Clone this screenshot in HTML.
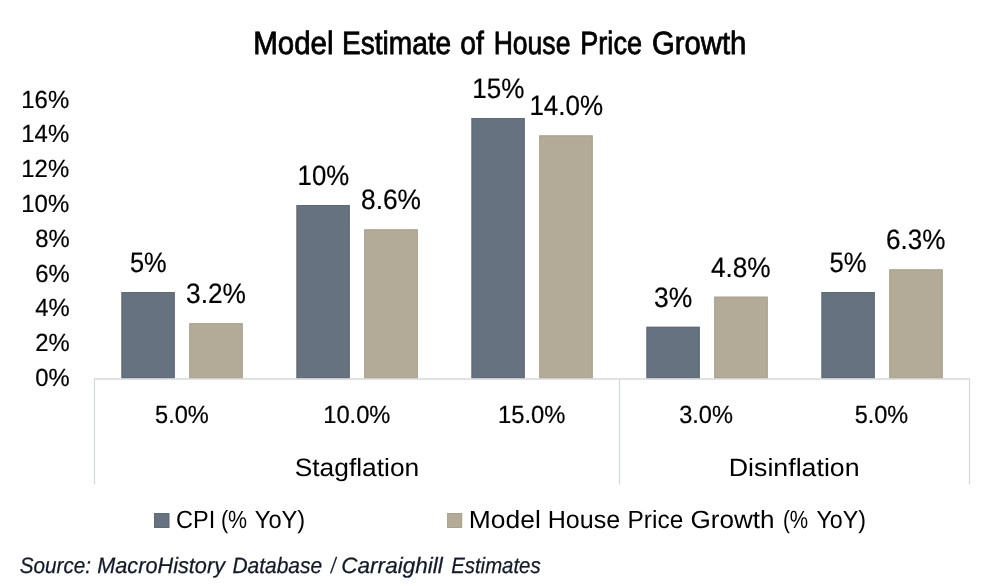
<!DOCTYPE html>
<html lang="en">
<head>
<meta charset="utf-8">
<title>Model Estimate of House Price Growth</title>
<style>
html,body{margin:0;padding:0;background:#fff;}
body{width:1000px;height:586px;overflow:hidden;}
svg{display:block;}
text{font-family:"Liberation Sans",sans-serif;fill:#000;text-rendering:geometricPrecision;}
.t{font-size:32.2px;stroke:#000;stroke-width:0.8px;}
.d{font-size:28.1px;stroke:#000;stroke-width:0.2px;}
.y{font-size:24.9px;stroke:#000;stroke-width:0.2px;}
.c{font-size:24.9px;stroke:#000;stroke-width:0.2px;}
.g{font-size:25px;}
.l{font-size:24.9px;}
.s{font-size:22.2px;font-style:italic;fill:#121a29;stroke:#121a29;stroke-width:0.25px;}
</style>
</head>
<body>
<svg width="1000" height="586" viewBox="0 0 1000 586" role="img" aria-label="Model Estimate of House Price Growth">
<rect x="0" y="0" width="1000" height="586" fill="#ffffff"/>
<rect x="121.5" y="292.0" width="53.2" height="86.5" fill="#66727f"/><rect x="122.0" y="292.5" width="52.2" height="85.5" fill="none" stroke="#5e6a78" stroke-width="1"/>
<rect x="189.3" y="323.3" width="53.4" height="55.2" fill="#b3ab98"/><rect x="189.8" y="323.8" width="52.4" height="54.2" fill="none" stroke="#a9a18d" stroke-width="1"/>
<rect x="296.5" y="205.0" width="53.2" height="173.5" fill="#66727f"/><rect x="297.0" y="205.5" width="52.2" height="172.5" fill="none" stroke="#5e6a78" stroke-width="1"/>
<rect x="364.3" y="229.4" width="53.4" height="149.1" fill="#b3ab98"/><rect x="364.8" y="229.9" width="52.4" height="148.1" fill="none" stroke="#a9a18d" stroke-width="1"/>
<rect x="471.5" y="118.0" width="53.2" height="260.5" fill="#66727f"/><rect x="472.0" y="118.5" width="52.2" height="259.5" fill="none" stroke="#5e6a78" stroke-width="1"/>
<rect x="539.3" y="135.4" width="53.4" height="243.1" fill="#b3ab98"/><rect x="539.8" y="135.9" width="52.4" height="242.1" fill="none" stroke="#a9a18d" stroke-width="1"/>
<rect x="646.5" y="326.8" width="53.2" height="51.7" fill="#66727f"/><rect x="647.0" y="327.3" width="52.2" height="50.7" fill="none" stroke="#5e6a78" stroke-width="1"/>
<rect x="714.3" y="296.7" width="53.4" height="81.8" fill="#b3ab98"/><rect x="714.8" y="297.2" width="52.4" height="80.8" fill="none" stroke="#a9a18d" stroke-width="1"/>
<rect x="821.5" y="292.0" width="53.2" height="86.5" fill="#66727f"/><rect x="822.0" y="292.5" width="52.2" height="85.5" fill="none" stroke="#5e6a78" stroke-width="1"/>
<rect x="889.3" y="269.4" width="53.4" height="109.1" fill="#b3ab98"/><rect x="889.8" y="269.9" width="52.4" height="108.1" fill="none" stroke="#a9a18d" stroke-width="1"/>
<path d="M94.5 484.5V379H969.5V484.5M619.5 379V484.5" fill="none" stroke="#d8dada" stroke-width="1.3"/>
<text class="y" x="35.2" y="386" textLength="34.4" lengthAdjust="spacingAndGlyphs">0%</text>
<text class="y" x="35.2" y="351" textLength="34.4" lengthAdjust="spacingAndGlyphs">2%</text>
<text class="y" x="35.2" y="316" textLength="34.4" lengthAdjust="spacingAndGlyphs">4%</text>
<text class="y" x="35.2" y="282" textLength="34.4" lengthAdjust="spacingAndGlyphs">6%</text>
<text class="y" x="35.2" y="247" textLength="34.4" lengthAdjust="spacingAndGlyphs">8%</text>
<text class="y" x="21.3" y="212" textLength="47.9" lengthAdjust="spacingAndGlyphs">10%</text>
<text class="y" x="21.3" y="177" textLength="47.9" lengthAdjust="spacingAndGlyphs">12%</text>
<text class="y" x="21.3" y="142" textLength="47.9" lengthAdjust="spacingAndGlyphs">14%</text>
<text class="y" x="21.3" y="108" textLength="47.9" lengthAdjust="spacingAndGlyphs">16%</text>
<text class="t" y="54"><tspan x="253.2" textLength="80.3" lengthAdjust="spacingAndGlyphs">Model</tspan> <tspan x="342.0" textLength="109.2" lengthAdjust="spacingAndGlyphs">Estimate</tspan> <tspan x="460.2" textLength="23.6" lengthAdjust="spacingAndGlyphs">of</tspan> <tspan x="493.7" textLength="76.7" lengthAdjust="spacingAndGlyphs">House</tspan> <tspan x="580.3" textLength="61.7" lengthAdjust="spacingAndGlyphs">Price</tspan> <tspan x="652.0" textLength="94.4" lengthAdjust="spacingAndGlyphs">Growth</tspan></text>
<text class="d" y="272"><tspan x="129.9" textLength="36.7" lengthAdjust="spacingAndGlyphs">5%</tspan></text>
<text class="d" y="303"><tspan x="186.1" textLength="59.9" lengthAdjust="spacingAndGlyphs">3.2%</tspan></text>
<text class="d" y="185"><tspan x="297.6" textLength="51.6" lengthAdjust="spacingAndGlyphs">10%</tspan></text>
<text class="d" y="209"><tspan x="361.0" textLength="60.0" lengthAdjust="spacingAndGlyphs">8.6%</tspan></text>
<text class="d" y="98"><tspan x="472.2" textLength="52.1" lengthAdjust="spacingAndGlyphs">15%</tspan></text>
<text class="d" y="115"><tspan x="529.4" textLength="73.7" lengthAdjust="spacingAndGlyphs">14.0%</tspan></text>
<text class="d" y="307"><tspan x="654.0" textLength="38.2" lengthAdjust="spacingAndGlyphs">3%</tspan></text>
<text class="d" y="277"><tspan x="710.9" textLength="59.7" lengthAdjust="spacingAndGlyphs">4.8%</tspan></text>
<text class="d" y="272"><tspan x="829.5" textLength="37.0" lengthAdjust="spacingAndGlyphs">5%</tspan></text>
<text class="d" y="249"><tspan x="886.1" textLength="59.4" lengthAdjust="spacingAndGlyphs">6.3%</tspan></text>
<text class="c" y="423"><tspan x="155.0" textLength="53.8" lengthAdjust="spacingAndGlyphs">5.0%</tspan></text>
<text class="c" y="423"><tspan x="323.3" textLength="67.1" lengthAdjust="spacingAndGlyphs">10.0%</tspan></text>
<text class="c" y="423"><tspan x="498.0" textLength="67.4" lengthAdjust="spacingAndGlyphs">15.0%</tspan></text>
<text class="c" y="423"><tspan x="679.2" textLength="53.8" lengthAdjust="spacingAndGlyphs">3.0%</tspan></text>
<text class="c" y="423"><tspan x="854.7" textLength="53.5" lengthAdjust="spacingAndGlyphs">5.0%</tspan></text>
<text class="g" y="476"><tspan x="294.7" textLength="124.6" lengthAdjust="spacingAndGlyphs">Stagflation</tspan></text>
<text class="g" y="476"><tspan x="728.8" textLength="130.8" lengthAdjust="spacingAndGlyphs">Disinflation</tspan></text>
<text class="l" y="528"><tspan x="176.1" textLength="39.2" lengthAdjust="spacingAndGlyphs">CPI</tspan> <tspan x="220.9" textLength="26.2" lengthAdjust="spacingAndGlyphs">(%</tspan> <tspan x="254.8" textLength="50.4" lengthAdjust="spacingAndGlyphs">YoY)</tspan></text>
<text class="l" y="528"><tspan x="468.8" textLength="72.0" lengthAdjust="spacingAndGlyphs">Model</tspan> <tspan x="547.7" textLength="72.5" lengthAdjust="spacingAndGlyphs">House</tspan> <tspan x="627.5" textLength="55.8" lengthAdjust="spacingAndGlyphs">Price</tspan> <tspan x="690.5" textLength="84.1" lengthAdjust="spacingAndGlyphs">Growth</tspan> <tspan x="782.9" textLength="25.2" lengthAdjust="spacingAndGlyphs">(%</tspan> <tspan x="816.4" textLength="49.6" lengthAdjust="spacingAndGlyphs">YoY)</tspan></text>
<text class="s" y="573"><tspan x="19.7" textLength="71.4" lengthAdjust="spacingAndGlyphs">Source:</tspan> <tspan x="97.2" textLength="127.8" lengthAdjust="spacingAndGlyphs">MacroHistory</tspan> <tspan x="232.4" textLength="89.8" lengthAdjust="spacingAndGlyphs">Database</tspan> <tspan x="331.0" textLength="4.7" lengthAdjust="spacingAndGlyphs">/</tspan> <tspan x="341.3" textLength="101.5" lengthAdjust="spacingAndGlyphs">Carraighill</tspan> <tspan x="451.2" textLength="89.4" lengthAdjust="spacingAndGlyphs">Estimates</tspan></text>
<rect x="154.0" y="513.1" width="15.3" height="14.9" fill="#66727f"/><rect x="154.5" y="513.6" width="14.3" height="13.9" fill="none" stroke="#5e6a78" stroke-width="1"/>
<rect x="447.2" y="513.1" width="14.9" height="14.9" fill="#b3ab98"/><rect x="447.7" y="513.6" width="13.9" height="13.9" fill="none" stroke="#a9a18d" stroke-width="1"/>
</svg>
</body>
</html>
